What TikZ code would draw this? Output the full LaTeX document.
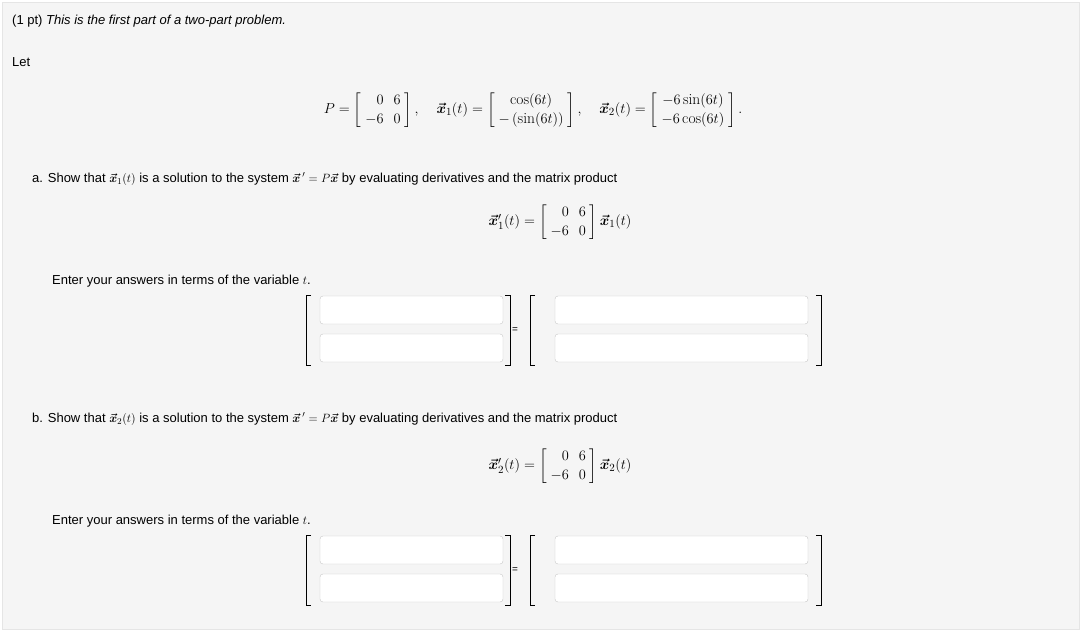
\documentclass[tikz,border=0pt]{standalone}
\usepackage{amsmath,bm}
\usepackage{fontspec}
\setsansfont{Liberation Sans}
\newcommand{\vx}{\bm{\vec{x}}}
\newcommand{\mymat}[1]{\left[\;\begin{matrix}#1\end{matrix}\;\right]}
\begin{document}
\begin{tikzpicture}[x=1pt,y=-1pt,
  txt/.style={anchor=west,inner sep=0pt,font=\sffamily\fontsize{13}{15}\selectfont},
  mth/.style={inner sep=0pt,font=\fontsize{15.5}{19}\selectfont},
  ibox/.style={draw=black!22,fill=white,rounded corners=3pt},
  brk/.style={line width=0.8pt}]
\useasboundingbox (0,0) rectangle (1081,631);
\fill[white] (0,0) rectangle (1081,631);
\draw[fill=black!4,draw=black!10] (2,2) rectangle (1079,629);
\node[txt] (t1) at (12,21) {(1 pt) \itshape This is the first part of a two-part problem.};
\node[txt] (t2) at (12,62) {Let};
\node[mth] (eq1) at (533,110) {$P=\mymat{\phantom{-}0&6\\-6&0},\quad \vx_{1}(t)=\mymat{\cos(6t)\\-\left(\sin(6t)\right)},\quad \vx_{2}(t)=\mymat{-6\sin(6t)\\-6\cos(6t)}.$};
\node[txt] (a) at (32,179) {a. Show that $\vx_1(t)$ is a solution to the system $\vx\,'=P\vx$ by evaluating derivatives and the matrix product};
\node[mth] (eqa) at (560,222) {$\vx_1'(t)=\mymat{\phantom{-}0&6\\-6&0}\vx_1(t)$};
\node[txt] (ea) at (52,281) {Enter your answers in terms of the variable $t$.};
\node[txt] (b) at (32,419) {b. Show that $\vx_2(t)$ is a solution to the system $\vx\,'=P\vx$ by evaluating derivatives and the matrix product};
\node[mth] (eqb) at (560,466) {$\vx_2'(t)=\mymat{\phantom{-}0&6\\-6&0}\vx_2(t)$};
\node[txt] (eb) at (52,521) {Enter your answers in terms of the variable $t$.};
\foreach \y/\n in {295/A,535/B}{
  \begin{scope}[shift={(0,\y)}]
  \draw[brk] (311,0)--(306,0)--(306,70)--(311,70);
  \draw[brk] (505,0)--(510,0)--(510,70)--(505,70);
  \draw[brk] (535,0)--(530,0)--(530,70)--(535,70);
  \draw[brk] (816,0)--(821,0)--(821,70)--(816,70);
  \node[ibox,minimum width=183,minimum height=28,inner sep=0pt] (\n1) at (411.5,15) {};
  \node[ibox,minimum width=183,minimum height=28,inner sep=0pt] (\n2) at (411.5,53) {};
  \node[ibox,minimum width=253,minimum height=28,inner sep=0pt] (\n3) at (681.5,15) {};
  \node[ibox,minimum width=253,minimum height=28,inner sep=0pt] (\n4) at (681.5,53) {};
  \node[txt,font=\sffamily\fontsize{10}{12}\selectfont] (\n e) at (512,35) {=};
  \end{scope}}
\end{tikzpicture}
\end{document}
